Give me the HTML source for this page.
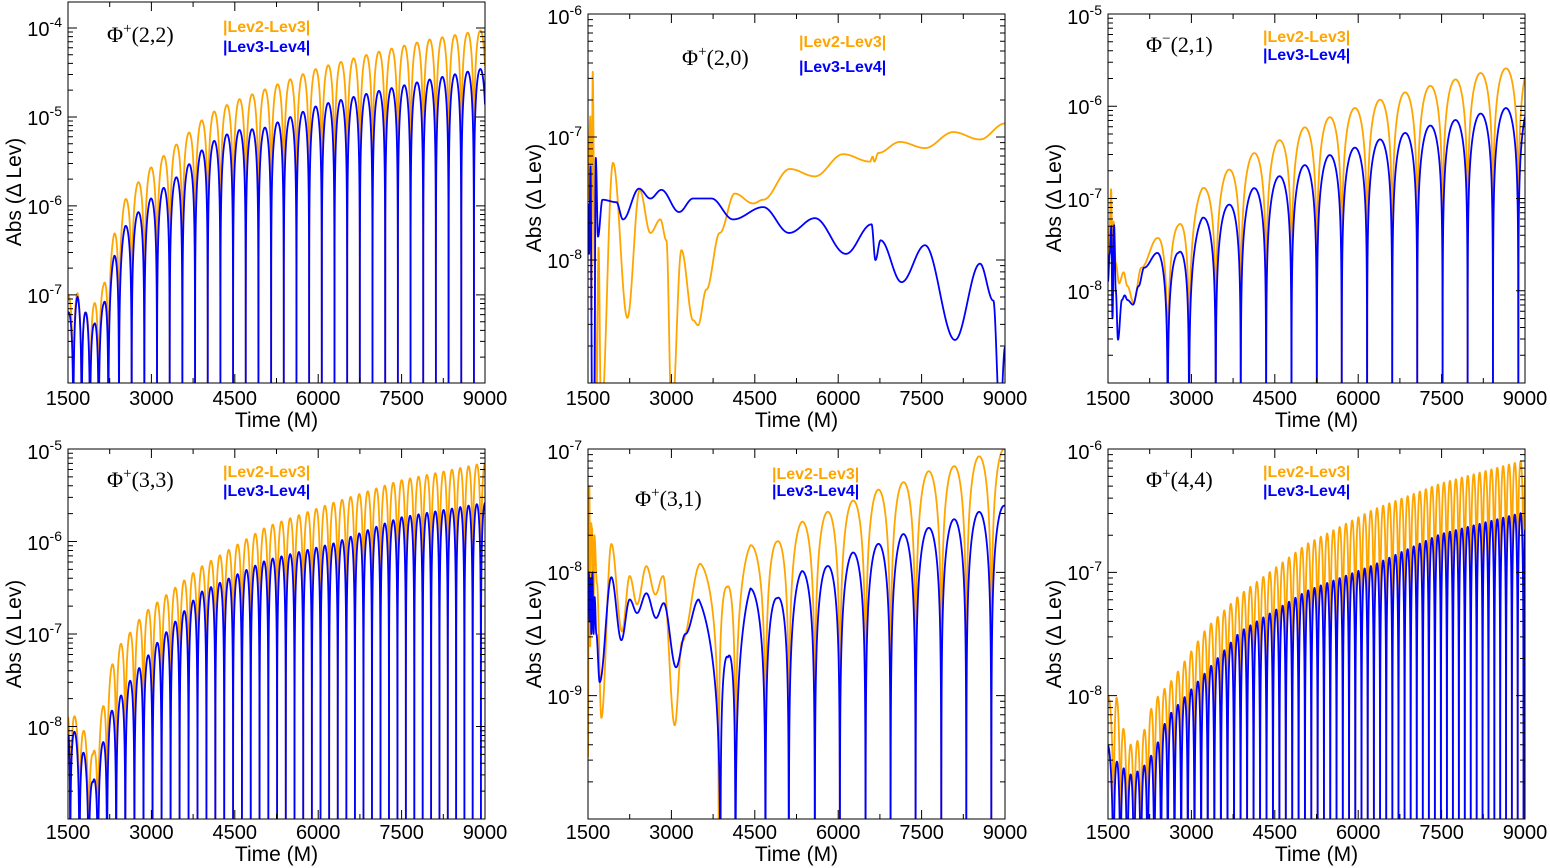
<!DOCTYPE html>
<html><head><meta charset="utf-8"><style>
html,body{margin:0;padding:0;background:#fff;}
svg{display:block;font-family:"Liberation Sans",sans-serif;}
.tl{font-size:20px;}
.xl{font-size:20px;text-anchor:middle;}
.ax{font-size:21px;}
.ti{font-family:"Liberation Serif",serif;font-size:22px;}
.lg{font-size:16px;font-weight:bold;}
.o{fill:#FFA500}.b{fill:#0000FF}
</style></head><body>
<svg id="s" width="1550" height="868" viewBox="0 0 1550 868" xmlns="http://www.w3.org/2000/svg">
<g transform="translate(0,0)">
<text class="tl" text-anchor="end" x="62" y="36">10<tspan dy="-9" font-size="14">-4</tspan></text>
<text class="tl" text-anchor="end" x="62" y="125">10<tspan dy="-9" font-size="14">-5</tspan></text>
<text class="tl" text-anchor="end" x="62" y="214">10<tspan dy="-9" font-size="14">-6</tspan></text>
<text class="tl" text-anchor="end" x="62" y="303">10<tspan dy="-9" font-size="14">-7</tspan></text>
<text class="ti" x="107" y="42">Φ<tspan dy="-9" font-size="15">+</tspan><tspan dy="9">(2,2)</tspan></text>
<text class="lg o" x="223" y="32">|Lev2-Lev3|</text>
<text class="lg b" x="223" y="52">|Lev3-Lev4|</text>
</g>
<g transform="translate(520,0)">
<text class="tl" text-anchor="end" x="62" y="24">10<tspan dy="-9" font-size="14">-6</tspan></text>
<text class="tl" text-anchor="end" x="62" y="145">10<tspan dy="-9" font-size="14">-7</tspan></text>
<text class="tl" text-anchor="end" x="62" y="268">10<tspan dy="-9" font-size="14">-8</tspan></text>
<text class="ti" x="162" y="65">Φ<tspan dy="-9" font-size="15">+</tspan><tspan dy="9">(2,0)</tspan></text>
<text class="lg o" x="279" y="47">|Lev2-Lev3|</text>
<text class="lg b" x="279" y="72">|Lev3-Lev4|</text>
</g>
<g transform="translate(1040,0)">
<text class="tl" text-anchor="end" x="62" y="24">10<tspan dy="-9" font-size="14">-5</tspan></text>
<text class="tl" text-anchor="end" x="62" y="114">10<tspan dy="-9" font-size="14">-6</tspan></text>
<text class="tl" text-anchor="end" x="62" y="207">10<tspan dy="-9" font-size="14">-7</tspan></text>
<text class="tl" text-anchor="end" x="62" y="299">10<tspan dy="-9" font-size="14">-8</tspan></text>
<text class="ti" x="106" y="52">Φ<tspan dy="-9" font-size="15">−</tspan><tspan dy="9">(2,1)</tspan></text>
<text class="lg o" x="223" y="42">|Lev2-Lev3|</text>
<text class="lg b" x="223" y="60">|Lev3-Lev4|</text>
</g>
<g transform="translate(0,434)">
<text class="tl" text-anchor="end" x="62" y="25">10<tspan dy="-9" font-size="14">-5</tspan></text>
<text class="tl" text-anchor="end" x="62" y="116">10<tspan dy="-9" font-size="14">-6</tspan></text>
<text class="tl" text-anchor="end" x="62" y="208">10<tspan dy="-9" font-size="14">-7</tspan></text>
<text class="tl" text-anchor="end" x="62" y="301">10<tspan dy="-9" font-size="14">-8</tspan></text>
<text class="ti" x="107" y="53">Φ<tspan dy="-9" font-size="15">+</tspan><tspan dy="9">(3,3)</tspan></text>
<text class="lg o" x="223" y="43">|Lev2-Lev3|</text>
<text class="lg b" x="223" y="62">|Lev3-Lev4|</text>
</g>
<g transform="translate(520,434)">
<text class="tl" text-anchor="end" x="62" y="25">10<tspan dy="-9" font-size="14">-7</tspan></text>
<text class="tl" text-anchor="end" x="62" y="146">10<tspan dy="-9" font-size="14">-8</tspan></text>
<text class="tl" text-anchor="end" x="62" y="270">10<tspan dy="-9" font-size="14">-9</tspan></text>
<text class="ti" x="115" y="72">Φ<tspan dy="-9" font-size="15">+</tspan><tspan dy="9">(3,1)</tspan></text>
<text class="lg o" x="252" y="45">|Lev2-Lev3|</text>
<text class="lg b" x="252" y="62">|Lev3-Lev4|</text>
</g>
<g transform="translate(1040,434)">
<text class="tl" text-anchor="end" x="62" y="25">10<tspan dy="-9" font-size="14">-6</tspan></text>
<text class="tl" text-anchor="end" x="62" y="146">10<tspan dy="-9" font-size="14">-7</tspan></text>
<text class="tl" text-anchor="end" x="62" y="270">10<tspan dy="-9" font-size="14">-8</tspan></text>
<text class="ti" x="106" y="53">Φ<tspan dy="-9" font-size="15">+</tspan><tspan dy="9">(4,4)</tspan></text>
<text class="lg o" x="223" y="43">|Lev2-Lev3|</text>
<text class="lg b" x="223" y="62">|Lev3-Lev4|</text>
</g>
<g transform="translate(0,0)"><text class="xl" x="68" y="405">1500</text><text class="xl" x="151.4" y="405">3000</text><text class="xl" x="234.8" y="405">4500</text><text class="xl" x="318.2" y="405">6000</text><text class="xl" x="401.6" y="405">7500</text><text class="xl" x="485" y="405">9000</text><text class="ax" text-anchor="middle" x="276.5" y="427">Time (M)</text><text class="ax" text-anchor="middle" transform="translate(21,192) rotate(-90)">Abs (Δ Lev)</text></g>
<g transform="translate(520,0)"><text class="xl" x="68" y="405">1500</text><text class="xl" x="151.4" y="405">3000</text><text class="xl" x="234.8" y="405">4500</text><text class="xl" x="318.2" y="405">6000</text><text class="xl" x="401.6" y="405">7500</text><text class="xl" x="485" y="405">9000</text><text class="ax" text-anchor="middle" x="276.5" y="427">Time (M)</text><text class="ax" text-anchor="middle" transform="translate(21,198) rotate(-90)">Abs (Δ Lev)</text></g>
<g transform="translate(1040,0)"><text class="xl" x="68" y="405">1500</text><text class="xl" x="151.4" y="405">3000</text><text class="xl" x="234.8" y="405">4500</text><text class="xl" x="318.2" y="405">6000</text><text class="xl" x="401.6" y="405">7500</text><text class="xl" x="485" y="405">9000</text><text class="ax" text-anchor="middle" x="276.5" y="427">Time (M)</text><text class="ax" text-anchor="middle" transform="translate(21,198) rotate(-90)">Abs (Δ Lev)</text></g>
<g transform="translate(0,434)"><text class="xl" x="68" y="405">1500</text><text class="xl" x="151.4" y="405">3000</text><text class="xl" x="234.8" y="405">4500</text><text class="xl" x="318.2" y="405">6000</text><text class="xl" x="401.6" y="405">7500</text><text class="xl" x="485" y="405">9000</text><text class="ax" text-anchor="middle" x="276.5" y="427">Time (M)</text><text class="ax" text-anchor="middle" transform="translate(21,200) rotate(-90)">Abs (Δ Lev)</text></g>
<g transform="translate(520,434)"><text class="xl" x="68" y="405">1500</text><text class="xl" x="151.4" y="405">3000</text><text class="xl" x="234.8" y="405">4500</text><text class="xl" x="318.2" y="405">6000</text><text class="xl" x="401.6" y="405">7500</text><text class="xl" x="485" y="405">9000</text><text class="ax" text-anchor="middle" x="276.5" y="427">Time (M)</text><text class="ax" text-anchor="middle" transform="translate(21,200) rotate(-90)">Abs (Δ Lev)</text></g>
<g transform="translate(1040,434)"><text class="xl" x="68" y="405">1500</text><text class="xl" x="151.4" y="405">3000</text><text class="xl" x="234.8" y="405">4500</text><text class="xl" x="318.2" y="405">6000</text><text class="xl" x="401.6" y="405">7500</text><text class="xl" x="485" y="405">9000</text><text class="ax" text-anchor="middle" x="276.5" y="427">Time (M)</text><text class="ax" text-anchor="middle" transform="translate(21,200) rotate(-90)">Abs (Δ Lev)</text></g>
</svg>
<script>
(function(){
var NS="http://www.w3.org/2000/svg",svg=document.getElementById('s');
function el(n,a,p){var e=document.createElementNS(NS,n);for(var k in a)e.setAttribute(k,a[k]);(p||svg).appendChild(e);return e;}
function cosI(k,t){if(t<=k[0][0])return k[0][1];for(var i=0;i<k.length-1;i++){if(t<=k[i+1][0]){var u=(t-k[i][0])/(k[i+1][0]-k[i][0]);var w=(1-Math.cos(Math.PI*u))/2;return k[i][1]+(k[i+1][1]-k[i][1])*w;}}return k[k.length-1][1];}
function linI(k,t){if(t<=k[0][0])return k[0][1];for(var i=0;i<k.length-1;i++){if(t<=k[i+1][0]){var u=(t-k[i][0])/(k[i+1][0]-k[i][0]);return k[i][1]+(k[i+1][1]-k[i][1])*u;}}return k[k.length-1][1];}
function gen(start,p0,p1){var a=[],m=start;while(m<9400){a.push(m);m+=p0+(p1-p0)*(m-2000)/7000;}return a;}
function val(s,t){
 if(!s.mins||t<s.pre)return cosI(s.knots,t);
 var e=linI(s.env,t),m=s.mins,f;
 if(t<m[0])f=Math.cos(Math.PI/2*(t-s.pre)/(m[0]-s.pre));
 else{var i=0;while(i<m.length-2&&m[i+1]<=t)i++;f=Math.sin(Math.PI*(t-m[i])/(m[i+1]-m[i]));}
 return e+Math.log10(Math.max(Math.abs(f),1e-5));
}
var p1m=[1596,1746,1896,2052,2226,2417];for(var q=2417+228;q<9500;q+=228)p1m.push(q);
var p3m=[2574,2958,3438,3888,4344,4800,5256,5704,6160,6612,7062,7518,7968,8424,8880,9336];
var p5o=[3852,4152,4692,5112,5580,6030,6492,6942,7392,7854,8304,8754,9204];
var p5b=[3882,4152,4692,5112,5580,6030,6492,6942,7392,7854,8304,8754,9204];
var p4m=gen(1540,165,148), p6m=gen(1600,122,104);
var P=[
{ox:0,oy:0,T:2,B:383,lt:-3.708,lb:-7.99,S:[
 {pre:1500,knots:[[1500,-7]],mins:p1m,env:[[1500,-7],[1670,-6.98],[1820,-7.2],[1970,-7.1],[2140,-6.89],[2334,-6.3],[2526,-5.93],[2754,-5.74],[3000,-5.56],[3500,-5.28],[4000,-4.98],[4500,-4.82],[5000,-4.7],[6000,-4.45],[7000,-4.28],[8000,-4.13],[9000,-4.02],[9300,-3.98]]},
 {pre:1500,knots:[[1500,-7.2]],mins:p1m,env:[[1500,-7.2],[1670,-7.02],[1820,-7.2],[1970,-7.33],[2140,-7.1],[2334,-6.55],[2526,-6.23],[3000,-5.91],[3500,-5.65],[4000,-5.31],[4500,-5.15],[5000,-5.13],[6000,-4.87],[7000,-4.72],[8000,-4.58],[9000,-4.45],[9300,-4.42]]}]},
{ox:520,oy:0,T:14,B:383,lt:-6,lb:-9,S:[
 {knots:[[1500,-7.51],[1542,-6.83],[1560,-8.46],[1585,-6.47],[1620,-8.05],[1650,-9.3],[1690,-7.9],[1735,-9.3],[1950,-7.21],[2208,-8.47],[2430,-7.43],[2622,-7.78],[2802,-7.67],[2910,-7.84],[3006,-9.3],[3180,-7.92],[3390,-8.49],[3480,-8.53],[3630,-8.24],[3870,-7.78],[4140,-7.46],[4470,-7.54],[4650,-7.51],[5130,-7.26],[5580,-7.32],[6090,-7.14],[6570,-7.2],[6620,-7.16],[6650,-7.2],[6720,-7.13],[7110,-7.04],[7560,-7.09],[8070,-6.96],[8550,-7.02],[9000,-6.89]]},
 {knots:[[1500,-7.54],[1520,-7.95],[1545,-7.24],[1575,-9.3],[1610,-9.3],[1640,-7.17],[1680,-7.81],[1760,-7.51],[2010,-7.53],[2130,-7.67],[2418,-7.42],[2622,-7.5],[2820,-7.43],[3138,-7.61],[3390,-7.5],[3720,-7.5],[4110,-7.67],[4650,-7.57],[5118,-7.78],[5580,-7.66],[6138,-7.95],[6600,-7.71],[6670,-8.0],[6762,-7.84],[7140,-8.18],[7560,-7.88],[8100,-8.65],[8550,-8.03],[8790,-8.33],[8910,-9.3],[9000,-8.71]]}]},
{ox:1040,oy:0,T:14,B:383,lt:-5,lb:-9,S:[
 {pre:2388,knots:[[1500,-7.6],[1530,-7.3],[1555,-6.9],[1580,-7.6],[1600,-7.25],[1640,-7.7],[1700,-7.92],[1780,-7.8],[1850,-7.95],[1960,-8.13],[2100,-7.75],[2388,-7.43]],mins:p3m,env:[[2388,-7.43],[2766,-7.29],[3198,-6.89],[3663,-6.69],[4116,-6.51],[4572,-6.37],[5028,-6.23],[5480,-6.12],[5932,-6.02],[6386,-5.93],[6837,-5.85],[7290,-5.78],[7743,-5.71],[8196,-5.64],[8652,-5.59],[9108,-5.53]]},
 {pre:2388,knots:[[1500,-7.9],[1530,-7.6],[1560,-7.3],[1580,-8.3],[1610,-7.29],[1640,-8.0],[1680,-8.53],[1750,-8.1],[1800,-8.05],[1850,-8.1],[1950,-8.15],[2050,-7.95],[2150,-7.75],[2388,-7.59]],mins:p3m,env:[[2388,-7.59],[2766,-7.59],[3198,-7.21],[3663,-7.07],[4116,-6.89],[4572,-6.76],[5028,-6.64],[5480,-6.53],[5932,-6.45],[6386,-6.36],[6837,-6.29],[7290,-6.21],[7743,-6.15],[8196,-6.08],[8652,-6.02],[9108,-5.97]]}]},
{ox:0,oy:434,T:15,B:385,lt:-5,lb:-9,S:[
 {pre:1500,knots:[[1500,-7.9]],mins:p4m,env:[[1500,-7.9],[1600,-7.87],[1800,-8.06],[1950,-8.3],[2124,-7.79],[2346,-7.18],[2586,-7.01],[2855,-6.78],[3875,-6.28],[5075,-5.84],[6275,-5.58],[7476,-5.34],[8916,-5.16],[9300,-5.13]]},
 {pre:1500,knots:[[1500,-8.1]],mins:p4m,env:[[1500,-8.1],[1550,-7.97],[1750,-8.22],[1950,-8.6],[2076,-8.29],[2256,-7.86],[2586,-7.53],[3096,-7.1],[3875,-6.55],[5075,-6.2],[6275,-6.02],[7476,-5.74],[8916,-5.59],[9300,-5.56]]}]},
{ox:520,oy:434,T:15,B:385,lt:-7,lb:-10,S:[
 {pre:3522,knots:[[1500,-9.5],[1515,-7.9],[1525,-7.3],[1540,-8.6],[1555,-7.6],[1572,-7.64],[1600,-8.3],[1615,-7.7],[1662,-8.09],[1740,-9.18],[1920,-7.77],[2112,-8.48],[2250,-8.03],[2382,-8.26],[2550,-7.95],[2712,-8.18],[2850,-8.03],[3060,-9.24],[3192,-8.56],[3522,-7.93]],mins:p5o,env:[[3522,-7.93],[4002,-8.12],[4422,-7.78],[4902,-7.75],[5346,-7.59],[5805,-7.51],[6261,-7.42],[6717,-7.33],[7167,-7.27],[7623,-7.18],[8079,-7.14],[8529,-7.06],[8979,-7.0],[9300,-6.95]]},
 {pre:3492,knots:[[1500,-8.3],[1515,-8.0],[1530,-8.4],[1545,-8.05],[1560,-8.5],[1580,-8.0],[1600,-8.5],[1620,-8.2],[1650,-8.5],[1710,-8.89],[1920,-8.04],[2100,-8.55],[2250,-8.22],[2382,-8.33],[2550,-8.17],[2724,-8.37],[2862,-8.25],[3084,-8.77],[3252,-8.5],[3492,-8.22]],mins:p5b,env:[[3492,-8.22],[4017,-8.69],[4422,-8.13],[4902,-8.21],[5346,-7.99],[5805,-7.95],[6261,-7.84],[6717,-7.77],[7167,-7.69],[7623,-7.64],[8079,-7.57],[8529,-7.51],[8979,-7.46],[9300,-7.42]]}]},
{ox:1040,oy:434,T:15,B:385,lt:-6,lb:-9,S:[
 {pre:1500,knots:[[1500,-8.0]],mins:p6m,env:[[1500,-8.0],[1650,-8.0],[1850,-8.41],[2100,-8.35],[2316,-8.05],[2676,-7.86],[3276,-7.45],[3876,-7.18],[5076,-6.77],[6276,-6.49],[7476,-6.28],[8916,-6.1],[9300,-6.07]]},
 {pre:1500,knots:[[1500,-8.4]],mins:p6m,env:[[1500,-8.4],[1650,-8.53],[1900,-8.64],[2100,-8.6],[2346,-8.44],[2556,-8.18],[3032,-7.93],[3876,-7.48],[5076,-7.15],[6276,-6.94],[7476,-6.69],[8916,-6.52],[9300,-6.5]]}]}
];
var cols=["#FFA500","#0000FF"];
P.forEach(function(p,pi){
 var g=el('g',{transform:'translate('+p.ox+','+p.oy+')'});
 var cid='c'+pi;var cp=el('clipPath',{id:cid},g);el('rect',{x:68,y:p.T,width:417,height:p.B-p.T},cp);
 function X(t){return 68+(t-1500)/7500*417;}
 function Y(v){v=Math.max(Math.min(v,p.lt+0.5),p.lb-0.5);return p.T+(p.lt-v)/(p.lt-p.lb)*(p.B-p.T);}
 p.S.forEach(function(s,si){
  var ts=[];for(var i=0;i<=3000;i++)ts.push(1500+i*2.5);
  if(s.mins)s.mins.forEach(function(m){if(m<9000)ts.push(m);});
  ts.sort(function(a,b){return a-b;});
  var d='';ts.forEach(function(t,i){d+=(i?'L':'M')+X(t).toFixed(2)+' '+Y(val(s,t)).toFixed(2);});
  el('path',{d:d,fill:'none',stroke:cols[si],'stroke-width':1.8,'stroke-linejoin':'round','clip-path':'url(#'+cid+')'},g);
 });
 el('rect',{x:68,y:p.T,width:417,height:p.B-p.T,fill:'none',stroke:'#000','stroke-width':1},g);
 var d='';
 for(var k=0;k<=20;k++){var t=1500+k*375;var x=X(t);var len=(k%4==0)?9:(k%2==0?5:0);if(!len)continue;d+='M'+x+' '+p.B+'v'+(-len)+'M'+x+' '+p.T+'v'+len;}
 for(var dec=Math.ceil(p.lb);dec<=Math.floor(p.lt)+1;dec++){
  for(var j=1;j<=9;j++){var v=dec-1+Math.log10(j);if(j==1)v=dec;if(v>p.lt+1e-6||v<p.lb-1e-6)continue;var y=Y(v);var len=(j==1)?9:5;d+='M68 '+y+'h'+len+'M485 '+y+'h'+(-len);}
 }
 el('path',{d:d,stroke:'#000','stroke-width':1,fill:'none'},g);
});
})();
</script>
</body></html>
